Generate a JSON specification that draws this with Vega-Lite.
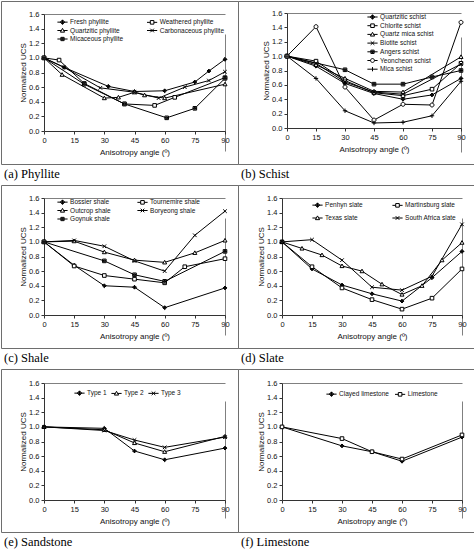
{
  "$schema": "https://vega.github.io/schema/vega-lite/v6.json",
  "padding": 0,
  "columns": 2,
  "spacing": {"row": 21, "column": 0},
  "bounds": "flush",
  "resolve": {"scale": {"x": "independent", "y": "independent", "shape": "independent"}, "legend": {"shape": "independent"}},
  "config": {
    "font": "Liberation Sans",
    "view": {"stroke": "#6e6e6e", "strokeWidth": 1},
    "axis": {"labelFont": "Liberation Sans", "titleFont": "Liberation Sans", "labelFontSize": 7.5, "titleFontSize": 8, "titleFontWeight": "normal", "domainColor": "#333", "tickColor": "#333", "labelColor": "#111", "titleColor": "#111", "tickSize": 3, "labelPadding": 2, "titlePadding": 5, "labelFlush": false, "labelOverlap": false, "gridColor": "#808080", "grid": true},
    "axisY": {"titlePadding": 1},
    "legend": {"title": null, "orient": "none", "direction": "horizontal", "padding": 0, "labelFont": "Liberation Sans", "labelFontSize": 6.5, "labelColor": "#111", "labelOffset": 4.1, "symbolSize": 36, "symbolStrokeWidth": 1},
    "title": {"font": "Liberation Serif", "fontSize": 12.5, "fontWeight": "normal", "color": "black", "anchor": "start", "orient": "bottom", "frame": "group", "offset": 3.5, "dx": 3}
  },
  "concat": [
    {
      "width": 237, "height": 163,
      "title": "(a) Phyllite",
      "data": {"values": [
        {"s": "Fresh phyllite", "a": 0, "u": 1.0}, {"s": "Fresh phyllite", "a": 10, "u": 0.87}, {"s": "Fresh phyllite", "a": 32, "u": 0.61}, {"s": "Fresh phyllite", "a": 45, "u": 0.54}, {"s": "Fresh phyllite", "a": 60, "u": 0.55}, {"s": "Fresh phyllite", "a": 75, "u": 0.67}, {"s": "Fresh phyllite", "a": 82, "u": 0.82}, {"s": "Fresh phyllite", "a": 90, "u": 0.98},
        {"s": "Weathered phyllite", "a": 0, "u": 1.0}, {"s": "Weathered phyllite", "a": 7.5, "u": 0.97}, {"s": "Weathered phyllite", "a": 20, "u": 0.65}, {"s": "Weathered phyllite", "a": 40, "u": 0.37}, {"s": "Weathered phyllite", "a": 55, "u": 0.35}, {"s": "Weathered phyllite", "a": 65, "u": 0.46}, {"s": "Weathered phyllite", "a": 90, "u": 0.73},
        {"s": "Quartzitic phyllite", "a": 0, "u": 1.0}, {"s": "Quartzitic phyllite", "a": 9, "u": 0.77}, {"s": "Quartzitic phyllite", "a": 30, "u": 0.45}, {"s": "Quartzitic phyllite", "a": 37, "u": 0.46}, {"s": "Quartzitic phyllite", "a": 45, "u": 0.53}, {"s": "Quartzitic phyllite", "a": 50, "u": 0.49}, {"s": "Quartzitic phyllite", "a": 60, "u": 0.45}, {"s": "Quartzitic phyllite", "a": 90, "u": 0.64},
        {"s": "Carbonaceous phyllite", "a": 0, "u": 1.0}, {"s": "Carbonaceous phyllite", "a": 10, "u": 0.87}, {"s": "Carbonaceous phyllite", "a": 28, "u": 0.59}, {"s": "Carbonaceous phyllite", "a": 45, "u": 0.53}, {"s": "Carbonaceous phyllite", "a": 57, "u": 0.45}, {"s": "Carbonaceous phyllite", "a": 70, "u": 0.6}, {"s": "Carbonaceous phyllite", "a": 82, "u": 0.69}, {"s": "Carbonaceous phyllite", "a": 90, "u": 0.81},
        {"s": "Micaceous phyllite", "a": 0, "u": 1.0}, {"s": "Micaceous phyllite", "a": 20, "u": 0.64}, {"s": "Micaceous phyllite", "a": 40, "u": 0.37}, {"s": "Micaceous phyllite", "a": 61, "u": 0.18}, {"s": "Micaceous phyllite", "a": 75, "u": 0.31}, {"s": "Micaceous phyllite", "a": 90, "u": 0.72}
      ]},
      "encoding": {
        "x": {"field": "a", "type": "quantitative", "scale": {"domain": [0, 90], "range": [43, 224], "nice": false}, "axis": {"title": "Anisotropy angle (º)", "values": [0, 15, 30, 45, 60, 75, 90], "offset": -33, "gridOpacity": {"condition": {"test": "datum.value == 90", "value": 1}, "value": 0}}},
        "y": {"field": "u", "type": "quantitative", "scale": {"domain": [0, 1.6], "range": [130, 13], "nice": false}, "axis": {"title": "Normalized UCS", "values": [0, 0.2, 0.4, 0.6, 0.8, 1.0, 1.2, 1.4, 1.6], "format": ".1f", "offset": -43, "gridOpacity": {"condition": {"test": "datum.value == 1.6", "value": 1}, "value": 0}}}
      },
      "layer": [
        {"mark": {"type": "line", "stroke": "black", "strokeWidth": 1}, "encoding": {"detail": {"field": "s"}}},
        {"mark": {"type": "point", "size": 16, "fill": "white", "stroke": "black", "strokeWidth": 1, "opacity": 1}, "encoding": {"shape": {"field": "s", "legend": null, "scale": {"domain": ["Fresh phyllite", "Weathered phyllite", "Quartzitic phyllite", "Carbonaceous phyllite", "Micaceous phyllite"], "range": ["M0,-0.95L0.95,0L0,0.95L-0.95,0ZM0,-0.5L0.5,0L0,0.5L-0.5,0ZM-0.95,0H0.95M0,-0.95V0.95", "M-0.9,-0.9H0.9V0.9H-0.9Z", "M0,-1L1,0.8H-1Z", "M-0.9,-0.9L0.9,0.9M-0.9,0.9L0.9,-0.9", "M-0.9,-0.9H0.9V0.9H-0.9ZM-0.45,-0.45H0.45V0.45H-0.45ZM-0.9,0H0.9"]}}}},
        {"transform": [{"filter": "false"}], "mark": {"type": "point", "size": 36, "opacity": 1, "fill": "white", "stroke": "black"}, "encoding": {"shape": {"field": "s", "legend": {"legendX": 58, "legendY": 17.5, "columns": 2, "columnPadding": 20.6, "rowPadding": -0.5}, "scale": {"domain": ["Fresh phyllite", "Weathered phyllite", "Quartzitic phyllite", "Carbonaceous phyllite", "Micaceous phyllite"], "range": ["M-1.7,0H1.7M0,-0.75L0.75,0L0,0.75L-0.75,0ZM0,-0.38L0.38,0L0,0.38L-0.38,0ZM0,-0.75V0.75", "M-1.7,0H-0.6M0.6,0H1.7M-0.6,-0.6H0.6V0.6H-0.6Z", "M-1.7,0H-0.4M0.4,0H1.7M0,-0.7L0.7,0.55H-0.7Z", "M-1.7,0H1.7M-0.6,-0.6L0.6,0.6M-0.6,0.6L0.6,-0.6", "M-1.7,0H1.7M-0.55,-0.55H0.55V0.55H-0.55ZM-0.25,-0.25H0.25V0.25H-0.25Z"]}}}}
      ],
      "resolve": {"scale": {"shape": "independent"}, "legend": {"shape": "independent"}}
    },
    {
      "width": 237, "height": 163,
      "title": "(b) Schist",
      "data": {"values": [
        {"s": "Quartzitic schist", "a": 0, "u": 1.0}, {"s": "Quartzitic schist", "a": 15, "u": 0.86}, {"s": "Quartzitic schist", "a": 30, "u": 0.62}, {"s": "Quartzitic schist", "a": 45, "u": 0.48}, {"s": "Quartzitic schist", "a": 60, "u": 0.40}, {"s": "Quartzitic schist", "a": 75, "u": 0.46}, {"s": "Quartzitic schist", "a": 90, "u": 0.69},
        {"s": "Chlorite schist", "a": 0, "u": 1.0}, {"s": "Chlorite schist", "a": 15, "u": 0.93}, {"s": "Chlorite schist", "a": 30, "u": 0.66}, {"s": "Chlorite schist", "a": 45, "u": 0.49}, {"s": "Chlorite schist", "a": 60, "u": 0.45}, {"s": "Chlorite schist", "a": 75, "u": 0.54}, {"s": "Chlorite schist", "a": 90, "u": 0.90},
        {"s": "Quartz mica schist", "a": 0, "u": 1.0}, {"s": "Quartz mica schist", "a": 15, "u": 0.88}, {"s": "Quartz mica schist", "a": 30, "u": 0.69}, {"s": "Quartz mica schist", "a": 45, "u": 0.51}, {"s": "Quartz mica schist", "a": 60, "u": 0.50}, {"s": "Quartz mica schist", "a": 90, "u": 0.99},
        {"s": "Biotite schist", "a": 0, "u": 1.0}, {"s": "Biotite schist", "a": 15, "u": 0.90}, {"s": "Biotite schist", "a": 30, "u": 0.64}, {"s": "Biotite schist", "a": 45, "u": 0.50}, {"s": "Biotite schist", "a": 60, "u": 0.47}, {"s": "Biotite schist", "a": 90, "u": 0.89},
        {"s": "Angers schist", "a": 0, "u": 1.0}, {"s": "Angers schist", "a": 30, "u": 0.81}, {"s": "Angers schist", "a": 45, "u": 0.61}, {"s": "Angers schist", "a": 60, "u": 0.61}, {"s": "Angers schist", "a": 75, "u": 0.71}, {"s": "Angers schist", "a": 90, "u": 0.80},
        {"s": "Yeoncheon schist", "a": 0, "u": 1.0}, {"s": "Yeoncheon schist", "a": 15, "u": 1.41}, {"s": "Yeoncheon schist", "a": 30, "u": 0.57}, {"s": "Yeoncheon schist", "a": 45, "u": 0.11}, {"s": "Yeoncheon schist", "a": 60, "u": 0.33}, {"s": "Yeoncheon schist", "a": 75, "u": 0.32}, {"s": "Yeoncheon schist", "a": 90, "u": 1.47},
        {"s": "Mica schist", "a": 0, "u": 1.0}, {"s": "Mica schist", "a": 15, "u": 0.69}, {"s": "Mica schist", "a": 30, "u": 0.24}, {"s": "Mica schist", "a": 45, "u": 0.07}, {"s": "Mica schist", "a": 60, "u": 0.08}, {"s": "Mica schist", "a": 75, "u": 0.17}, {"s": "Mica schist", "a": 90, "u": 0.65}
      ]},
      "encoding": {
        "x": {"field": "a", "type": "quantitative", "scale": {"domain": [0, 90], "range": [49, 223], "nice": false}, "axis": {"title": "Anisotropy angle (º)", "values": [0, 15, 30, 45, 60, 75, 90], "offset": -36, "gridOpacity": {"condition": {"test": "datum.value == 90", "value": 1}, "value": 0}}},
        "y": {"field": "u", "type": "quantitative", "scale": {"domain": [0, 1.6], "range": [127, 12], "nice": false}, "axis": {"title": "Normalized UCS", "values": [0, 0.2, 0.4, 0.6, 0.8, 1.0, 1.2, 1.4, 1.6], "format": ".1f", "offset": -49, "gridOpacity": {"condition": {"test": "datum.value == 1.6", "value": 1}, "value": 0}}}
      },
      "layer": [
        {"mark": {"type": "line", "stroke": "black", "strokeWidth": 1}, "encoding": {"detail": {"field": "s"}}},
        {"mark": {"type": "point", "size": 16, "fill": "white", "stroke": "black", "strokeWidth": 1, "opacity": 1}, "encoding": {"shape": {"field": "s", "legend": null, "scale": {"domain": ["Quartzitic schist", "Chlorite schist", "Quartz mica schist", "Biotite schist", "Angers schist", "Yeoncheon schist", "Mica schist"], "range": ["M0,-0.95L0.95,0L0,0.95L-0.95,0ZM0,-0.5L0.5,0L0,0.5L-0.5,0ZM-0.95,0H0.95M0,-0.95V0.95", "M-0.9,-0.9H0.9V0.9H-0.9Z", "M0,-1L1,0.8H-1Z", "M-0.9,-0.9L0.9,0.9M-0.9,0.9L0.9,-0.9", "M-0.9,-0.9H0.9V0.9H-0.9ZM-0.45,-0.45H0.45V0.45H-0.45ZM-0.9,0H0.9", "M1,0A1,1,0,1,1,-1,0A1,1,0,1,1,1,0Z", "M-1.1,0H1.1M0,-1.1V1.1"]}}}},
        {"transform": [{"filter": "false"}], "mark": {"type": "point", "size": 36, "opacity": 1, "fill": "white", "stroke": "black"}, "encoding": {"shape": {"field": "s", "legend": {"legendX": 131, "legendY": 12.5, "columns": 1, "rowPadding": -0.3}, "scale": {"domain": ["Quartzitic schist", "Chlorite schist", "Quartz mica schist", "Biotite schist", "Angers schist", "Yeoncheon schist", "Mica schist"], "range": ["M-1.7,0H1.7M0,-0.75L0.75,0L0,0.75L-0.75,0ZM0,-0.38L0.38,0L0,0.38L-0.38,0ZM0,-0.75V0.75", "M-1.7,0H-0.6M0.6,0H1.7M-0.6,-0.6H0.6V0.6H-0.6Z", "M-1.7,0H-0.4M0.4,0H1.7M0,-0.7L0.7,0.55H-0.7Z", "M-1.7,0H1.7M-0.6,-0.6L0.6,0.6M-0.6,0.6L0.6,-0.6", "M-1.7,0H1.7M-0.55,-0.55H0.55V0.55H-0.55ZM-0.25,-0.25H0.25V0.25H-0.25Z", "M-1.7,0H-0.65M0.65,0H1.7M0.65,0A0.65,0.65,0,1,1,-0.65,0A0.65,0.65,0,1,1,0.65,0Z", "M-1.7,0H1.7M0,-0.7V0.7"]}}}}
      ],
      "resolve": {"scale": {"shape": "independent"}, "legend": {"shape": "independent"}}
    },
    {
      "width": 237, "height": 163,
      "title": "(c) Shale",
      "data": {"values": [
        {"s": "Bossier shale", "a": 0, "u": 1.0}, {"s": "Bossier shale", "a": 15, "u": 0.68}, {"s": "Bossier shale", "a": 30, "u": 0.40}, {"s": "Bossier shale", "a": 45, "u": 0.38}, {"s": "Bossier shale", "a": 60, "u": 0.10}, {"s": "Bossier shale", "a": 90, "u": 0.37},
        {"s": "Tournemire shale", "a": 0, "u": 1.0}, {"s": "Tournemire shale", "a": 15, "u": 0.67}, {"s": "Tournemire shale", "a": 30, "u": 0.54}, {"s": "Tournemire shale", "a": 45, "u": 0.49}, {"s": "Tournemire shale", "a": 60, "u": 0.44}, {"s": "Tournemire shale", "a": 70, "u": 0.66}, {"s": "Tournemire shale", "a": 90, "u": 0.77},
        {"s": "Outcrop shale", "a": 0, "u": 1.0}, {"s": "Outcrop shale", "a": 15, "u": 1.01}, {"s": "Outcrop shale", "a": 30, "u": 0.86}, {"s": "Outcrop shale", "a": 45, "u": 0.75}, {"s": "Outcrop shale", "a": 60, "u": 0.72}, {"s": "Outcrop shale", "a": 75, "u": 0.85}, {"s": "Outcrop shale", "a": 90, "u": 1.02},
        {"s": "Boryeong shale", "a": 0, "u": 1.0}, {"s": "Boryeong shale", "a": 15, "u": 1.02}, {"s": "Boryeong shale", "a": 30, "u": 0.94}, {"s": "Boryeong shale", "a": 45, "u": 0.74}, {"s": "Boryeong shale", "a": 60, "u": 0.60}, {"s": "Boryeong shale", "a": 75, "u": 1.09}, {"s": "Boryeong shale", "a": 90, "u": 1.42},
        {"s": "Goynuk shale", "a": 0, "u": 1.0}, {"s": "Goynuk shale", "a": 30, "u": 0.74}, {"s": "Goynuk shale", "a": 45, "u": 0.55}, {"s": "Goynuk shale", "a": 60, "u": 0.46}, {"s": "Goynuk shale", "a": 90, "u": 0.87}
      ]},
      "encoding": {
        "x": {"field": "a", "type": "quantitative", "scale": {"domain": [0, 90], "range": [43, 224], "nice": false}, "axis": {"title": "Anisotropy angle (º)", "values": [0, 15, 30, 45, 60, 75, 90], "offset": -33, "gridOpacity": {"condition": {"test": "datum.value == 90", "value": 1}, "value": 0}}},
        "y": {"field": "u", "type": "quantitative", "scale": {"domain": [0, 1.6], "range": [130, 13], "nice": false}, "axis": {"title": "Normalized UCS", "values": [0, 0.2, 0.4, 0.6, 0.8, 1.0, 1.2, 1.4, 1.6], "format": ".1f", "offset": -43, "gridOpacity": {"condition": {"test": "datum.value == 1.6", "value": 1}, "value": 0}}}
      },
      "layer": [
        {"mark": {"type": "line", "stroke": "black", "strokeWidth": 1}, "encoding": {"detail": {"field": "s"}}},
        {"mark": {"type": "point", "size": 16, "fill": "white", "stroke": "black", "strokeWidth": 1, "opacity": 1}, "encoding": {"shape": {"field": "s", "legend": null, "scale": {"domain": ["Bossier shale", "Tournemire shale", "Outcrop shale", "Boryeong shale", "Goynuk shale"], "range": ["M0,-0.95L0.95,0L0,0.95L-0.95,0ZM0,-0.5L0.5,0L0,0.5L-0.5,0ZM-0.95,0H0.95M0,-0.95V0.95", "M-0.9,-0.9H0.9V0.9H-0.9Z", "M0,-1L1,0.8H-1Z", "M-0.9,-0.9L0.9,0.9M-0.9,0.9L0.9,-0.9", "M-0.9,-0.9H0.9V0.9H-0.9ZM-0.45,-0.45H0.45V0.45H-0.45ZM-0.9,0H0.9"]}}}},
        {"transform": [{"filter": "false"}], "mark": {"type": "point", "size": 36, "opacity": 1, "fill": "white", "stroke": "black"}, "encoding": {"shape": {"field": "s", "legend": {"legendX": 58, "legendY": 13.5, "columns": 2, "columnPadding": 24, "rowPadding": -0.5}, "scale": {"domain": ["Bossier shale", "Tournemire shale", "Outcrop shale", "Boryeong shale", "Goynuk shale"], "range": ["M-1.7,0H1.7M0,-0.75L0.75,0L0,0.75L-0.75,0ZM0,-0.38L0.38,0L0,0.38L-0.38,0ZM0,-0.75V0.75", "M-1.7,0H-0.6M0.6,0H1.7M-0.6,-0.6H0.6V0.6H-0.6Z", "M-1.7,0H-0.4M0.4,0H1.7M0,-0.7L0.7,0.55H-0.7Z", "M-1.7,0H1.7M-0.6,-0.6L0.6,0.6M-0.6,0.6L0.6,-0.6", "M-1.7,0H1.7M-0.55,-0.55H0.55V0.55H-0.55ZM-0.25,-0.25H0.25V0.25H-0.25Z"]}}}}
      ],
      "resolve": {"scale": {"shape": "independent"}, "legend": {"shape": "independent"}}
    },
    {
      "width": 237, "height": 163,
      "title": "(d) Slate",
      "data": {"values": [
        {"s": "Penhyn slate", "a": 0, "u": 1.0}, {"s": "Penhyn slate", "a": 15, "u": 0.63}, {"s": "Penhyn slate", "a": 30, "u": 0.41}, {"s": "Penhyn slate", "a": 45, "u": 0.29}, {"s": "Penhyn slate", "a": 60, "u": 0.19}, {"s": "Penhyn slate", "a": 75, "u": 0.51}, {"s": "Penhyn slate", "a": 90, "u": 0.87},
        {"s": "Martinsburg slate", "a": 0, "u": 1.0}, {"s": "Martinsburg slate", "a": 15, "u": 0.66}, {"s": "Martinsburg slate", "a": 30, "u": 0.37}, {"s": "Martinsburg slate", "a": 45, "u": 0.21}, {"s": "Martinsburg slate", "a": 60, "u": 0.08}, {"s": "Martinsburg slate", "a": 75, "u": 0.23}, {"s": "Martinsburg slate", "a": 90, "u": 0.63},
        {"s": "Texas slate", "a": 0, "u": 1.0}, {"s": "Texas slate", "a": 10, "u": 0.91}, {"s": "Texas slate", "a": 20, "u": 0.82}, {"s": "Texas slate", "a": 30, "u": 0.67}, {"s": "Texas slate", "a": 40, "u": 0.60}, {"s": "Texas slate", "a": 50, "u": 0.42}, {"s": "Texas slate", "a": 60, "u": 0.28}, {"s": "Texas slate", "a": 70, "u": 0.40}, {"s": "Texas slate", "a": 80, "u": 0.75}, {"s": "Texas slate", "a": 90, "u": 0.99},
        {"s": "South Africa slate", "a": 0, "u": 1.0}, {"s": "South Africa slate", "a": 15, "u": 1.03}, {"s": "South Africa slate", "a": 30, "u": 0.75}, {"s": "South Africa slate", "a": 45, "u": 0.38}, {"s": "South Africa slate", "a": 60, "u": 0.34}, {"s": "South Africa slate", "a": 75, "u": 0.53}, {"s": "South Africa slate", "a": 90, "u": 1.24}
      ]},
      "encoding": {
        "x": {"field": "a", "type": "quantitative", "scale": {"domain": [0, 90], "range": [44, 224], "nice": false}, "axis": {"title": "Anisotropy angle (º)", "values": [0, 15, 30, 45, 60, 75, 90], "offset": -33, "gridOpacity": {"condition": {"test": "datum.value == 90", "value": 1}, "value": 0}}},
        "y": {"field": "u", "type": "quantitative", "scale": {"domain": [0, 1.6], "range": [130, 13], "nice": false}, "axis": {"title": "Normalized UCS", "values": [0, 0.2, 0.4, 0.6, 0.8, 1.0, 1.2, 1.4, 1.6], "format": ".1f", "offset": -44, "gridOpacity": {"condition": {"test": "datum.value == 1.6", "value": 1}, "value": 0}}}
      },
      "layer": [
        {"mark": {"type": "line", "stroke": "black", "strokeWidth": 1}, "encoding": {"detail": {"field": "s"}}},
        {"mark": {"type": "point", "size": 16, "fill": "white", "stroke": "black", "strokeWidth": 1, "opacity": 1}, "encoding": {"shape": {"field": "s", "legend": null, "scale": {"domain": ["Penhyn slate", "Martinsburg slate", "Texas slate", "South Africa slate"], "range": ["M0,-0.95L0.95,0L0,0.95L-0.95,0ZM0,-0.5L0.5,0L0,0.5L-0.5,0ZM-0.95,0H0.95M0,-0.95V0.95", "M-0.9,-0.9H0.9V0.9H-0.9Z", "M0,-1L1,0.8H-1Z", "M-0.9,-0.9L0.9,0.9M-0.9,0.9L0.9,-0.9"]}}}},
        {"transform": [{"filter": "false"}], "mark": {"type": "point", "size": 36, "opacity": 1, "fill": "white", "stroke": "black"}, "encoding": {"shape": {"field": "s", "legend": {"legendX": 76, "legendY": 16.5, "columns": 2, "columnPadding": 27, "rowPadding": 4}, "scale": {"domain": ["Penhyn slate", "Martinsburg slate", "Texas slate", "South Africa slate"], "range": ["M-1.7,0H1.7M0,-0.75L0.75,0L0,0.75L-0.75,0ZM0,-0.38L0.38,0L0,0.38L-0.38,0ZM0,-0.75V0.75", "M-1.7,0H-0.6M0.6,0H1.7M-0.6,-0.6H0.6V0.6H-0.6Z", "M-1.7,0H-0.4M0.4,0H1.7M0,-0.7L0.7,0.55H-0.7Z", "M-1.7,0H1.7M-0.6,-0.6L0.6,0.6M-0.6,0.6L0.6,-0.6"]}}}}
      ],
      "resolve": {"scale": {"shape": "independent"}, "legend": {"shape": "independent"}}
    },
    {
      "width": 237, "height": 163,
      "title": "(e) Sandstone",
      "data": {"values": [
        {"s": "Type 1", "a": 0, "u": 1.0}, {"s": "Type 1", "a": 30, "u": 0.98}, {"s": "Type 1", "a": 45, "u": 0.67}, {"s": "Type 1", "a": 60, "u": 0.55}, {"s": "Type 1", "a": 90, "u": 0.71},
        {"s": "Type 2", "a": 0, "u": 1.0}, {"s": "Type 2", "a": 30, "u": 0.96}, {"s": "Type 2", "a": 45, "u": 0.78}, {"s": "Type 2", "a": 60, "u": 0.66}, {"s": "Type 2", "a": 90, "u": 0.87},
        {"s": "Type 3", "a": 0, "u": 1.0}, {"s": "Type 3", "a": 30, "u": 0.95}, {"s": "Type 3", "a": 45, "u": 0.82}, {"s": "Type 3", "a": 60, "u": 0.72}, {"s": "Type 3", "a": 90, "u": 0.86}
      ]},
      "encoding": {
        "x": {"field": "a", "type": "quantitative", "scale": {"domain": [0, 90], "range": [43, 224], "nice": false}, "axis": {"title": "Anisotropy angle (º)", "values": [0, 15, 30, 45, 60, 75, 90], "offset": -32, "gridOpacity": {"condition": {"test": "datum.value == 90", "value": 1}, "value": 0}}},
        "y": {"field": "u", "type": "quantitative", "scale": {"domain": [0, 1.6], "range": [131, 14], "nice": false}, "axis": {"title": "Normalized UCS", "values": [0, 0.2, 0.4, 0.6, 0.8, 1.0, 1.2, 1.4, 1.6], "format": ".1f", "offset": -43, "gridOpacity": {"condition": {"test": "datum.value == 1.6", "value": 1}, "value": 0}}}
      },
      "layer": [
        {"mark": {"type": "line", "stroke": "black", "strokeWidth": 1}, "encoding": {"detail": {"field": "s"}}},
        {"mark": {"type": "point", "size": 16, "fill": "white", "stroke": "black", "strokeWidth": 1, "opacity": 1}, "encoding": {"shape": {"field": "s", "legend": null, "scale": {"domain": ["Type 1", "Type 2", "Type 3"], "range": ["M0,-0.95L0.95,0L0,0.95L-0.95,0ZM0,-0.5L0.5,0L0,0.5L-0.5,0ZM-0.95,0H0.95M0,-0.95V0.95", "M0,-1L1,0.8H-1Z", "M-0.9,-0.9L0.9,0.9M-0.9,0.9L0.9,-0.9"]}}}},
        {"transform": [{"filter": "false"}], "mark": {"type": "point", "size": 36, "opacity": 1, "fill": "white", "stroke": "black"}, "encoding": {"shape": {"field": "s", "legend": {"legendX": 75, "legendY": 20.5, "columns": 3, "columnPadding": 2}, "scale": {"domain": ["Type 1", "Type 2", "Type 3"], "range": ["M-1.7,0H1.7M0,-0.75L0.75,0L0,0.75L-0.75,0ZM0,-0.38L0.38,0L0,0.38L-0.38,0ZM0,-0.75V0.75", "M-1.7,0H-0.4M0.4,0H1.7M0,-0.7L0.7,0.55H-0.7Z", "M-1.7,0H1.7M-0.6,-0.6L0.6,0.6M-0.6,0.6L0.6,-0.6"]}}}}
      ],
      "resolve": {"scale": {"shape": "independent"}, "legend": {"shape": "independent"}}
    },
    {
      "width": 237, "height": 163,
      "title": "(f) Limestone",
      "data": {"values": [
        {"s": "Clayed limestone", "a": 0, "u": 1.0}, {"s": "Clayed limestone", "a": 30, "u": 0.74}, {"s": "Clayed limestone", "a": 45, "u": 0.66}, {"s": "Clayed limestone", "a": 60, "u": 0.53}, {"s": "Clayed limestone", "a": 90, "u": 0.86},
        {"s": "Limestone", "a": 0, "u": 1.0}, {"s": "Limestone", "a": 30, "u": 0.84}, {"s": "Limestone", "a": 45, "u": 0.66}, {"s": "Limestone", "a": 60, "u": 0.56}, {"s": "Limestone", "a": 90, "u": 0.89}
      ]},
      "encoding": {
        "x": {"field": "a", "type": "quantitative", "scale": {"domain": [0, 90], "range": [44, 224], "nice": false}, "axis": {"title": "Anisotropy angle (º)", "values": [0, 15, 30, 45, 60, 75, 90], "offset": -32, "gridOpacity": {"condition": {"test": "datum.value == 90", "value": 1}, "value": 0}}},
        "y": {"field": "u", "type": "quantitative", "scale": {"domain": [0, 1.6], "range": [131, 14], "nice": false}, "axis": {"title": "Normalized UCS", "values": [0, 0.2, 0.4, 0.6, 0.8, 1.0, 1.2, 1.4, 1.6], "format": ".1f", "offset": -44, "gridOpacity": {"condition": {"test": "datum.value == 1.6", "value": 1}, "value": 0}}}
      },
      "layer": [
        {"mark": {"type": "line", "stroke": "black", "strokeWidth": 1}, "encoding": {"detail": {"field": "s"}}},
        {"mark": {"type": "point", "size": 16, "fill": "white", "stroke": "black", "strokeWidth": 1, "opacity": 1}, "encoding": {"shape": {"field": "s", "legend": null, "scale": {"domain": ["Clayed limestone", "Limestone"], "range": ["M0,-0.95L0.95,0L0,0.95L-0.95,0ZM0,-0.5L0.5,0L0,0.5L-0.5,0ZM-0.95,0H0.95M0,-0.95V0.95", "M-0.9,-0.9H0.9V0.9H-0.9Z"]}}}},
        {"transform": [{"filter": "false"}], "mark": {"type": "point", "size": 36, "opacity": 1, "fill": "white", "stroke": "black"}, "encoding": {"shape": {"field": "s", "legend": {"legendX": 90, "legendY": 21.5, "columns": 2, "columnPadding": 3.6}, "scale": {"domain": ["Clayed limestone", "Limestone"], "range": ["M-1.7,0H1.7M0,-0.75L0.75,0L0,0.75L-0.75,0ZM0,-0.38L0.38,0L0,0.38L-0.38,0ZM0,-0.75V0.75", "M-1.7,0H-0.6M0.6,0H1.7M-0.6,-0.6H0.6V0.6H-0.6Z"]}}}}
      ],
      "resolve": {"scale": {"shape": "independent"}, "legend": {"shape": "independent"}}
    }
  ]
}
